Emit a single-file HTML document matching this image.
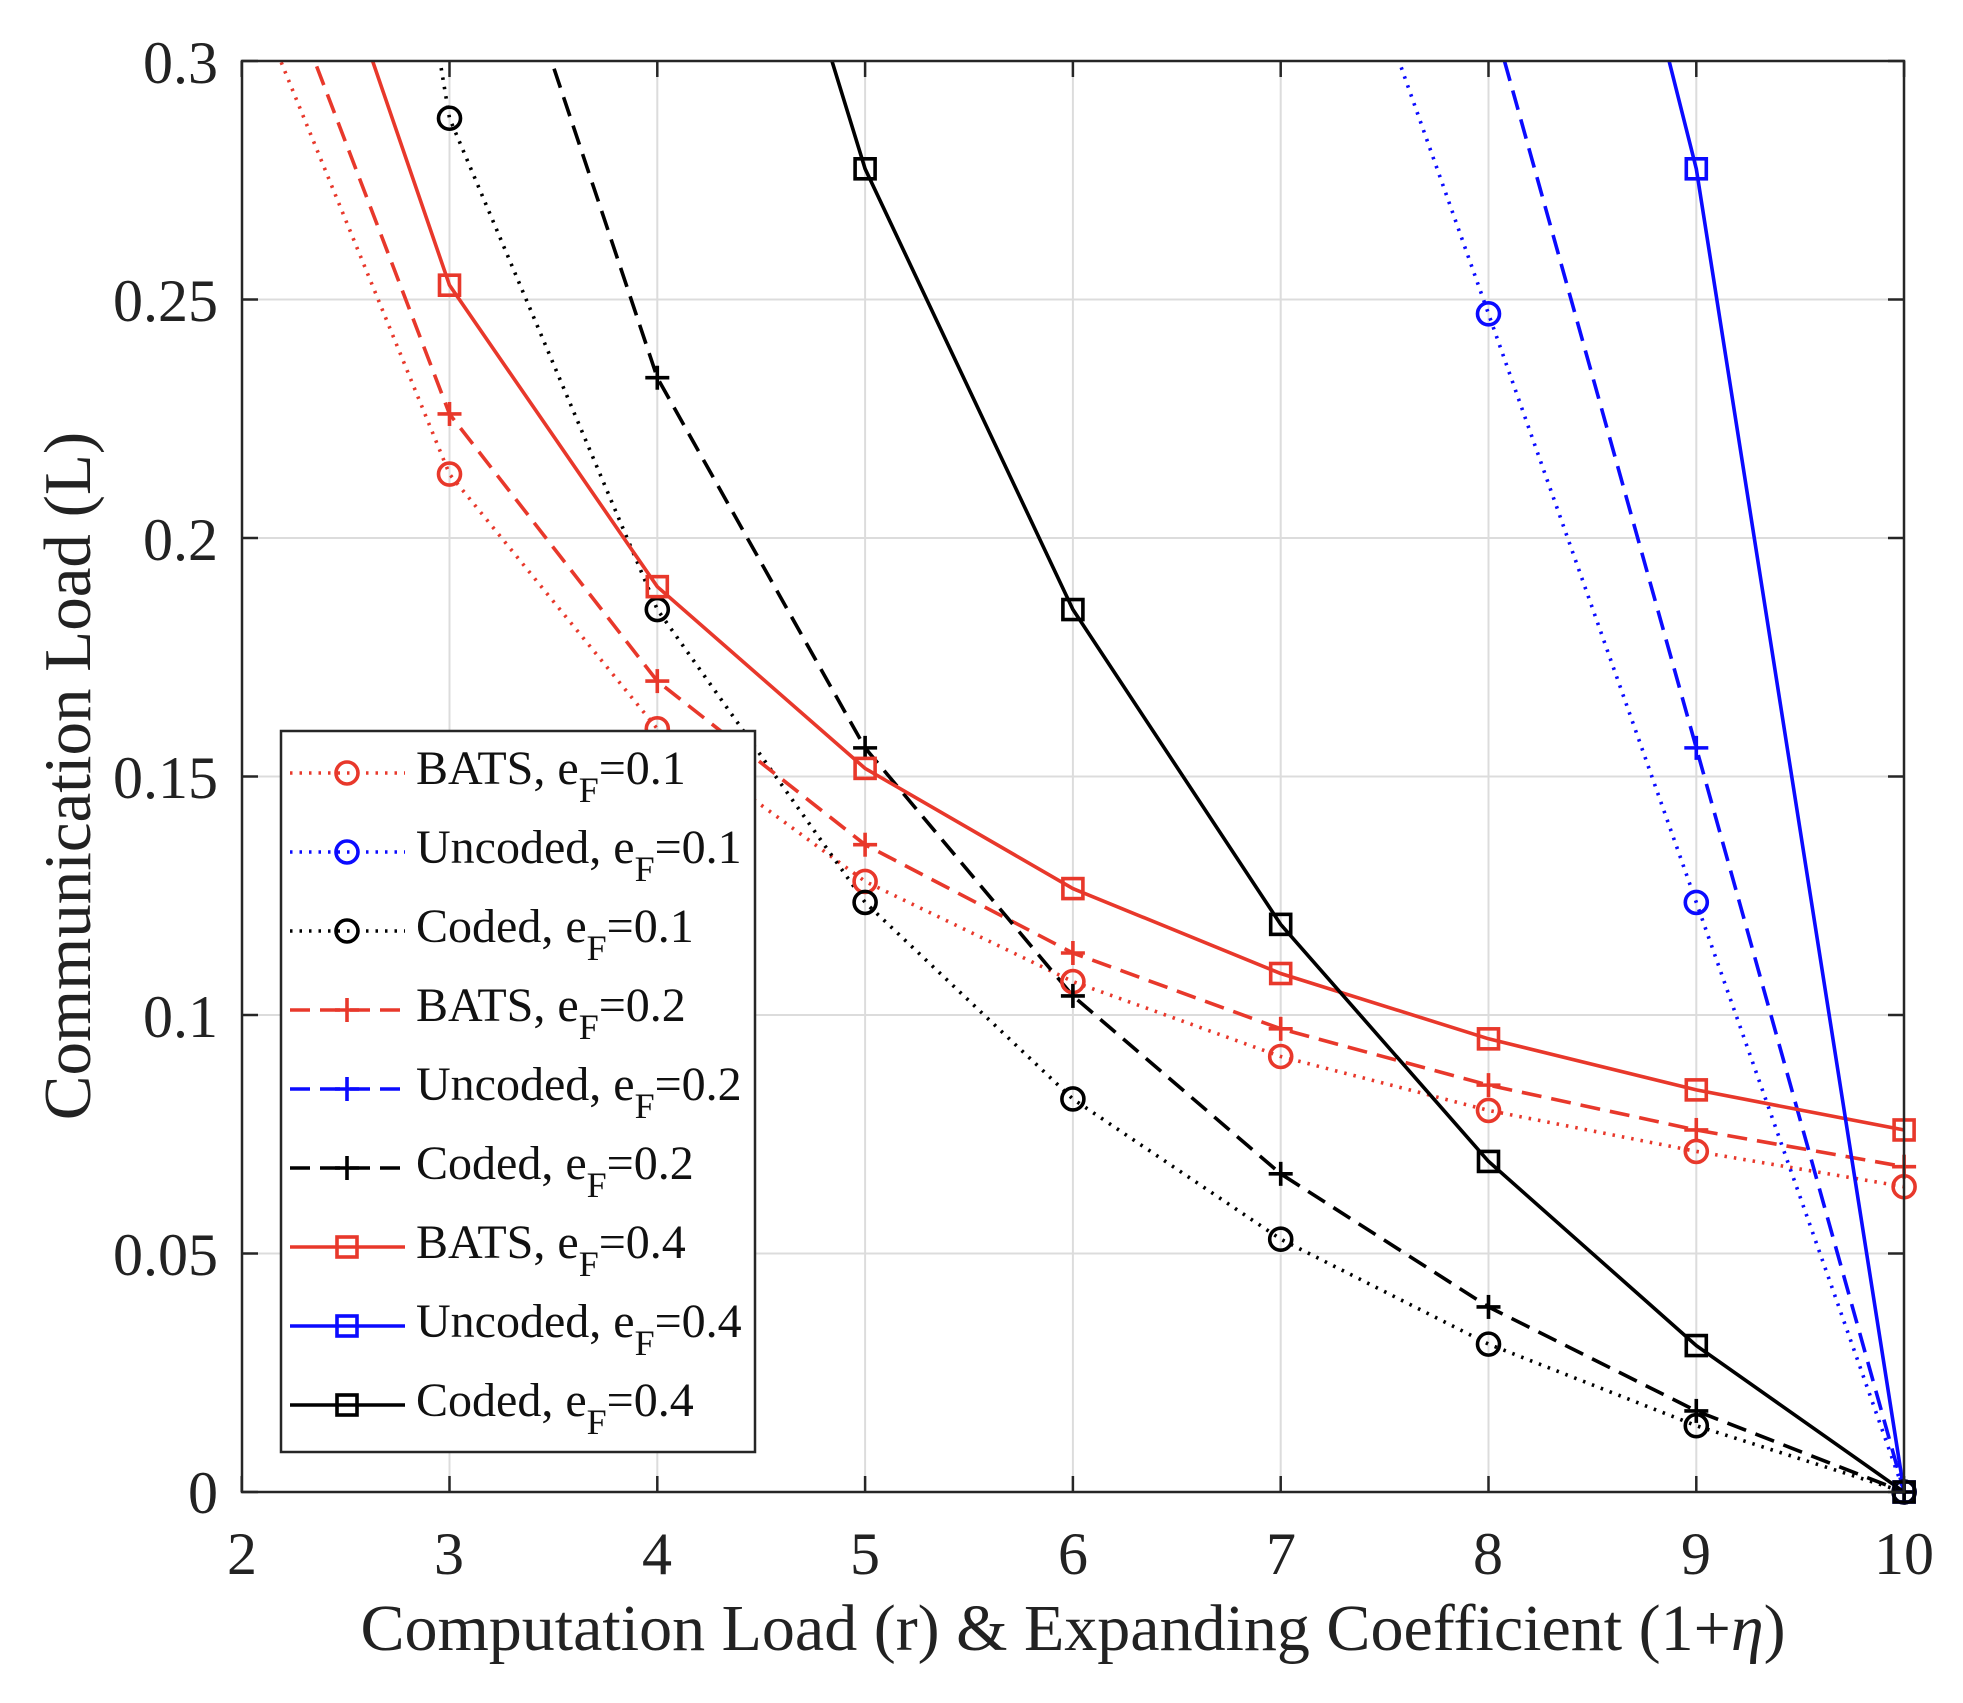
<!DOCTYPE html>
<html><head><meta charset="utf-8"><style>
html,body{margin:0;padding:0;background:#fff;}
svg{display:block;font-family:"Liberation Serif",serif;}
</style></head><body>
<svg id="s" width="1963" height="1703" viewBox="0 0 1963 1703" xmlns="http://www.w3.org/2000/svg">
<defs><clipPath id="c"><rect x="242" y="61" width="1662" height="1431"/></clipPath></defs>
<g id="grid" stroke="#dcdcdc" stroke-width="2"></g>
<g id="series" clip-path="url(#c)"></g>
<g id="marks"></g>
<rect x="242" y="61" width="1662" height="1431" fill="none" stroke="#262626" stroke-width="2.5"/>
<g id="ticks" stroke="#262626" stroke-width="2.5"></g>
<g font-size="60" fill="#222" text-anchor="end">
<text x="218" y="83">0.3</text><text x="218" y="321">0.25</text><text x="218" y="560">0.2</text>
<text x="218" y="798">0.15</text><text x="218" y="1037">0.1</text><text x="218" y="1275">0.05</text><text x="218" y="1513">0</text>
</g>
<g font-size="60" fill="#222" text-anchor="middle">
<text x="242" y="1574">2</text><text x="449" y="1574">3</text><text x="657" y="1574">4</text><text x="865" y="1574">5</text>
<text x="1073" y="1574">6</text><text x="1281" y="1574">7</text><text x="1488" y="1574">8</text><text x="1696" y="1574">9</text><text x="1904" y="1574">10</text>
</g>
<text x="1073" y="1650" font-size="66" fill="#222" text-anchor="middle">Computation Load (r) &amp; Expanding Coefficient (1+<tspan font-style="italic">η</tspan>)</text>
<text transform="translate(90,776) rotate(-90)" font-size="67" fill="#222" text-anchor="middle">Communication Load (L)</text>
<rect x="281" y="731" width="474" height="721" fill="#fff" stroke="#262626" stroke-width="2.5"/>
<g id="leg"></g>
<g font-size="48" fill="#111">
<text x="416" y="784">BATS, e<tspan font-size="36" dy="18">F</tspan><tspan dy="-18">=0.1</tspan></text>
<text x="416" y="863">Uncoded, e<tspan font-size="36" dy="18">F</tspan><tspan dy="-18">=0.1</tspan></text>
<text x="416" y="942">Coded, e<tspan font-size="36" dy="18">F</tspan><tspan dy="-18">=0.1</tspan></text>
<text x="416" y="1021">BATS, e<tspan font-size="36" dy="18">F</tspan><tspan dy="-18">=0.2</tspan></text>
<text x="416" y="1100">Uncoded, e<tspan font-size="36" dy="18">F</tspan><tspan dy="-18">=0.2</tspan></text>
<text x="416" y="1179">Coded, e<tspan font-size="36" dy="18">F</tspan><tspan dy="-18">=0.2</tspan></text>
<text x="416" y="1258">BATS, e<tspan font-size="36" dy="18">F</tspan><tspan dy="-18">=0.4</tspan></text>
<text x="416" y="1337">Uncoded, e<tspan font-size="36" dy="18">F</tspan><tspan dy="-18">=0.4</tspan></text>
<text x="416" y="1416">Coded, e<tspan font-size="36" dy="18">F</tspan><tspan dy="-18">=0.4</tspan></text>
</g>
</svg>
<script>
var NS="http://www.w3.org/2000/svg";
function X(v){return 241.7+207.8*(v-2);}
function Y(l){return 1492-4770*l;}
function el(p,t,a){var e=document.createElementNS(NS,t);for(var k in a)e.setAttribute(k,a[k]);p.appendChild(e);return e;}
var g=document.getElementById('grid'),tk=document.getElementById('ticks');
for(var i=3;i<=9;i++){el(g,'line',{x1:X(i),x2:X(i),y1:61,y2:1492});}
for(var j=1;j<=5;j++){el(g,'line',{x1:242,x2:1904,y1:Y(j*0.05),y2:Y(j*0.05)});}
for(var i=2;i<=10;i++){el(tk,'line',{x1:X(i),x2:X(i),y1:1492,y2:1476});el(tk,'line',{x1:X(i),x2:X(i),y1:61,y2:77});}
for(var j=0;j<=6;j++){el(tk,'line',{x1:242,x2:258,y1:Y(j*0.05),y2:Y(j*0.05)});el(tk,'line',{x1:1904,x2:1888,y1:Y(j*0.05),y2:Y(j*0.05)});}
var R="#e8382b",B="#0b0bff",K="#000";
var dash={dot:"2.5,7",dash:"20,10",solid:""};
var S=[
 [R,'dot','o',[[2,0.32],[3,0.2134],[4,0.160],[5,0.128],[6,0.107],[7,0.0913],[8,0.080],[9,0.0714],[10,0.064]]],
 [B,'dot','o',[[7,0.37],[8,0.247],[9,0.1236],[10,0]]],
 [K,'dot','o',[[2,0.55],[3,0.288],[4,0.185],[5,0.1236],[6,0.0824],[7,0.053],[8,0.031],[9,0.0139],[10,0]]],
 [R,'dash','+',[[2,0.34],[3,0.226],[4,0.170],[5,0.1357],[6,0.113],[7,0.0971],[8,0.0853],[9,0.0759],[10,0.0682]]],
 [B,'dash','+',[[8,0.312],[9,0.156],[10,0]]],
 [K,'dash','+',[[3,0.364],[4,0.2336],[5,0.156],[6,0.104],[7,0.0667],[8,0.0388],[9,0.017],[10,0]]],
 [R,'solid','s',[[2,0.38],[3,0.253],[4,0.1898],[5,0.1517],[6,0.1265],[7,0.1087],[8,0.095],[9,0.0843],[10,0.0759]]],
 [B,'solid','s',[[8,0.45],[9,0.2774],[10,0]]],
 [K,'solid','s',[[4,0.419],[5,0.2774],[6,0.185],[7,0.119],[8,0.0693],[9,0.0307],[10,0]]]
];
var sg=document.getElementById('series'),mg=document.getElementById('marks'),lg=document.getElementById('leg');
function marker(p,t,x,y,c){
 if(t=='o')el(p,'circle',{cx:x,cy:y,r:11,fill:'none',stroke:c,'stroke-width':3.6});
 else if(t=='s')el(p,'rect',{x:x-10,y:y-10,width:20,height:20,fill:'none',stroke:c,'stroke-width':3.6});
 else{el(p,'line',{x1:x-12,x2:x+12,y1:y,y2:y,stroke:c,'stroke-width':3.6});el(p,'line',{x1:x,x2:x,y1:y-12,y2:y+12,stroke:c,'stroke-width':3.6});}
}
S.forEach(function(s,idx){
 var pts=s[3].map(function(p){return X(p[0]).toFixed(1)+','+Y(p[1]).toFixed(1);}).join(' ');
 var a={points:pts,fill:'none',stroke:s[0],'stroke-width':3.6};
 if(dash[s[1]])a['stroke-dasharray']=dash[s[1]];
 el(sg,'polyline',a);
 s[3].forEach(function(p,k){if(k>0&&p[1]<=0.3) marker(mg,s[2],X(p[0]),Y(p[1]),s[0]);});
 var ly=773+79*idx;
 var la={x1:290,x2:405,y1:ly,y2:ly,stroke:s[0],'stroke-width':3.6};
 if(dash[s[1]])la['stroke-dasharray']=dash[s[1]];
 el(lg,'line',la);marker(lg,s[2],347,ly,s[0]);
});
</script>
</body></html>
